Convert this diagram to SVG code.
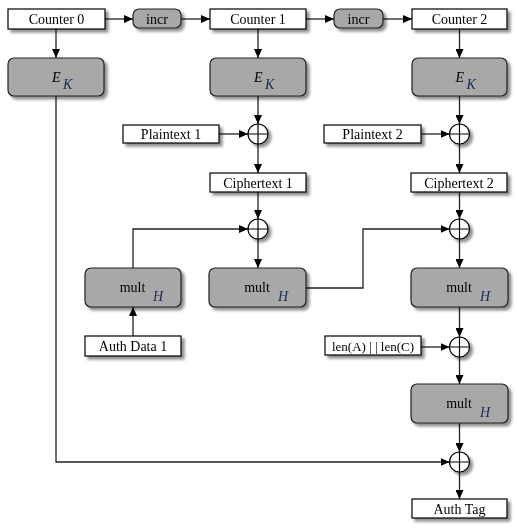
<svg xmlns="http://www.w3.org/2000/svg" width="517" height="529" viewBox="0 0 517 529">
<defs>
<filter id="sh" x="-20%" y="-30%" width="150%" height="170%">
<feGaussianBlur in="SourceAlpha" stdDeviation="1.5"/>
<feOffset dx="3" dy="3" result="b"/>
<feComponentTransfer><feFuncA type="linear" slope="0.45"/></feComponentTransfer>
<feMerge><feMergeNode/><feMergeNode in="SourceGraphic"/></feMerge>
</filter>
<marker id="ah" markerWidth="9" markerHeight="8" refX="9" refY="4" orient="auto" markerUnits="userSpaceOnUse">
<path d="M0,0 L9,4 L0,8 Z" fill="#000"/>
</marker>
</defs>
<style>
.w{fill:#fff;stroke:#000;stroke-width:1.2}
.g{fill:#a8a8a8;stroke:#222;stroke-width:1.2}
.x{fill:#fff;stroke:#000;stroke-width:1.2}
.t{font-family:"Liberation Serif","Times New Roman",serif;font-size:14px;fill:#000;text-anchor:middle}
.i{font-family:"Liberation Serif","Times New Roman",serif;font-size:14px;font-style:italic;fill:#000}
.h{font-family:"Liberation Serif","Times New Roman",serif;font-size:14px;font-style:italic;fill:#1a2a55}
.c line,.c path{stroke:#222;stroke-width:1.3;fill:none}
.a{marker-end:url(#ah)}
</style>

<g class="c" id="connectors">
<line class="a" x1="105" y1="19" x2="133" y2="19"/>
<line class="a" x1="181" y1="19" x2="210" y2="19"/>
<line class="a" x1="306" y1="19" x2="334" y2="19"/>
<line class="a" x1="383" y1="19" x2="412" y2="19"/>
<line class="a" x1="56" y1="29" x2="56" y2="58"/>
<line class="a" x1="258" y1="29" x2="258" y2="58"/>
<line class="a" x1="459.5" y1="29" x2="459.5" y2="58"/>
<line class="a" x1="258" y1="96" x2="258" y2="124"/>
<line class="a" x1="219" y1="134" x2="248" y2="134"/>
<line class="a" x1="258" y1="144" x2="258" y2="173"/>
<line class="a" x1="258" y1="192" x2="258" y2="219"/>
<path class="a" d="M133,268 V229 H248"/>
<line class="a" x1="258" y1="239" x2="258" y2="268"/>
<path class="a" d="M306,288 H363 V229 H449.5"/>
<line class="a" x1="133" y1="336" x2="133" y2="307"/>
<line class="a" x1="459.5" y1="96" x2="459.5" y2="124"/>
<line class="a" x1="421" y1="134" x2="449.5" y2="134"/>
<line class="a" x1="459.5" y1="144" x2="459.5" y2="173"/>
<line class="a" x1="459.5" y1="192" x2="459.5" y2="219"/>
<line class="a" x1="459.5" y1="239" x2="459.5" y2="268"/>
<line class="a" x1="459.5" y1="307" x2="459.5" y2="337"/>
<line class="a" x1="421" y1="347" x2="449.5" y2="347"/>
<line class="a" x1="459.5" y1="357" x2="459.5" y2="384"/>
<line class="a" x1="459.5" y1="423" x2="459.5" y2="452"/>
<path class="a" d="M56,96 V462 H449.5"/>
<line class="a" x1="459.5" y1="472" x2="459.5" y2="499"/>
</g>

<g id="counter0" filter="url(#sh)"><rect class="w" x="8" y="9" width="97" height="20"/><text class="t" x="56.5" y="24">Counter 0</text></g>
<g id="incr1" filter="url(#sh)"><rect class="g" x="133" y="9" width="48" height="19" rx="6"/><text class="t" x="157" y="23.5">incr</text></g>
<g id="counter1" filter="url(#sh)"><rect class="w" x="210" y="9" width="96" height="20"/><text class="t" x="258" y="24">Counter 1</text></g>
<g id="incr2" filter="url(#sh)"><rect class="g" x="334" y="9" width="49" height="19" rx="6"/><text class="t" x="358.5" y="23.5">incr</text></g>
<g id="counter2" filter="url(#sh)"><rect class="w" x="412" y="9" width="95" height="20"/><text class="t" x="459.5" y="24">Counter 2</text></g>

<g id="ek0" filter="url(#sh)"><rect class="g" x="8" y="58" width="96" height="38" rx="6"/><text class="i" x="52" y="82">E</text><text class="h" x="63" y="89">K</text></g>
<g id="ek1" filter="url(#sh)"><rect class="g" x="210" y="58" width="96" height="38" rx="6"/><text class="i" x="254" y="82">E</text><text class="h" x="265" y="89">K</text></g>
<g id="ek2" filter="url(#sh)"><rect class="g" x="412" y="58" width="95" height="38" rx="6"/><text class="i" x="455.5" y="82">E</text><text class="h" x="466.5" y="89">K</text></g>

<g id="pt1" filter="url(#sh)"><rect class="w" x="123" y="125" width="96" height="18"/><text class="t" x="171" y="139">Plaintext 1</text></g>
<g id="xor1" filter="url(#sh)"><circle class="x" cx="258" cy="134" r="10"/><path d="M248,134 H268 M258,124 V144" stroke="#000" stroke-width="1.2"/></g>
<g id="ct1" filter="url(#sh)"><rect class="w" x="210" y="173" width="96" height="19"/><text class="t" x="258" y="187.5">Ciphertext 1</text></g>
<g id="xor2" filter="url(#sh)"><circle class="x" cx="258" cy="229" r="10"/><path d="M248,229 H268 M258,219 V239" stroke="#000" stroke-width="1.2"/></g>

<g id="pt2" filter="url(#sh)"><rect class="w" x="324" y="125" width="97" height="18"/><text class="t" x="372.5" y="139">Plaintext 2</text></g>
<g id="xor3" filter="url(#sh)"><circle class="x" cx="459.5" cy="134" r="10"/><path d="M449.5,134 H469.5 M459.5,124 V144" stroke="#000" stroke-width="1.2"/></g>
<g id="ct2" filter="url(#sh)"><rect class="w" x="411" y="173" width="96" height="19"/><text class="t" x="459" y="187.5">Ciphertext 2</text></g>
<g id="xor4" filter="url(#sh)"><circle class="x" cx="459.5" cy="229" r="10"/><path d="M449.5,229 H469.5 M459.5,219 V239" stroke="#000" stroke-width="1.2"/></g>

<g id="mult0" filter="url(#sh)"><rect class="g" x="85" y="268" width="96" height="39" rx="6"/><text class="t" x="132.5" y="292">mult</text><text class="h" x="153" y="301">H</text></g>
<g id="mult1" filter="url(#sh)"><rect class="g" x="209" y="268" width="97" height="39" rx="6"/><text class="t" x="257" y="292">mult</text><text class="h" x="278" y="301">H</text></g>
<g id="mult2" filter="url(#sh)"><rect class="g" x="411" y="268" width="97" height="39" rx="6"/><text class="t" x="459" y="292">mult</text><text class="h" x="480" y="301">H</text></g>

<g id="authdata" filter="url(#sh)"><rect class="w" x="85" y="336" width="96" height="20"/><text class="t" x="133" y="351">Auth Data 1</text></g>
<g id="lens" filter="url(#sh)"><rect class="w" x="325" y="336" width="96" height="19"/><text class="t" x="373" y="350.5" style="font-size:13px">len(A) | | len(C)</text></g>
<g id="xor5" filter="url(#sh)"><circle class="x" cx="459.5" cy="347" r="10"/><path d="M449.5,347 H469.5 M459.5,337 V357" stroke="#000" stroke-width="1.2"/></g>
<g id="mult3" filter="url(#sh)"><rect class="g" x="411" y="384" width="97" height="39" rx="6"/><text class="t" x="459" y="408">mult</text><text class="h" x="480" y="417">H</text></g>
<g id="xor6" filter="url(#sh)"><circle class="x" cx="459.5" cy="462" r="10"/><path d="M449.5,462 H469.5 M459.5,452 V472" stroke="#000" stroke-width="1.2"/></g>
<g id="authtag" filter="url(#sh)"><rect class="w" x="412" y="499" width="95" height="19"/><text class="t" x="459.5" y="513.5">Auth Tag</text></g>
</svg>
